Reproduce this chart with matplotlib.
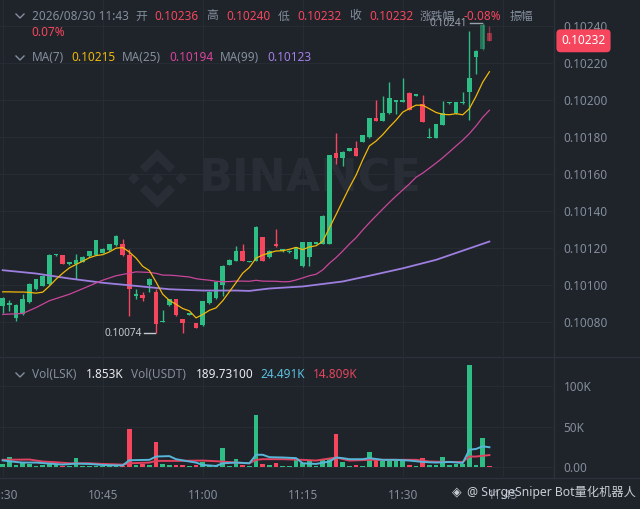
import numpy as np
import pandas as pd
import matplotlib.pyplot as plt
from matplotlib.lines import Line2D
from matplotlib.patches import Polygon
from matplotlib.transforms import blended_transform_factory

plt.rcParams['font.family'] = ['Noto Sans', 'Noto Sans CJK SC', 'DejaVu Sans']

# 1m candles, 10:30 .. 11:43
opens = [0.100887, 0.100890, 0.100819, 0.100841, 0.100909, 0.100981, 0.100997, 0.101003, 0.101160, 0.101161,
         0.101114, 0.101116, 0.101125, 0.101156, 0.101161, 0.101175, 0.101188, 0.101215, 0.101220, 0.101161,
         0.100940, 0.100945, 0.100999, 0.100963, 0.100800, 0.100891, 0.100923, 0.100814, 0.100840, 0.100792,
         0.100783, 0.100900, 0.100929, 0.101001, 0.101109, 0.101130, 0.101186, 0.101124, 0.101132, 0.101257,
         0.101149, 0.101223, 0.101183, 0.101176, 0.101140, 0.101100, 0.101149, 0.101224, 0.101221, 0.101221,
         0.101712, 0.101689, 0.101726, 0.101739, 0.101775, 0.101798, 0.101901, 0.101887, 0.101928, 0.101991,
         0.101991, 0.102040, 0.102024, 0.101978, 0.101796, 0.101797, 0.101865, 0.101982, 0.101928, 0.101982,
         0.102045, 0.102230, 0.102274, 0.102360]
highs = [0.100935, 0.100920, 0.100895, 0.100950, 0.101010, 0.101035, 0.101055, 0.101165, 0.101165, 0.101163,
         0.101125, 0.101170, 0.101155, 0.101185, 0.101245, 0.101200, 0.101223, 0.101268, 0.101246, 0.101197,
         0.100976, 0.100963, 0.101038, 0.100980, 0.100864, 0.100925, 0.100925, 0.100816, 0.100845, 0.100794,
         0.100916, 0.100965, 0.101017, 0.101107, 0.101138, 0.101212, 0.101222, 0.101132, 0.101318, 0.101262,
         0.101187, 0.101302, 0.101196, 0.101187, 0.101205, 0.101233, 0.101233, 0.101233, 0.101376, 0.101705,
         0.101820, 0.101723, 0.101741, 0.101779, 0.101813, 0.101903, 0.102000, 0.102022, 0.102095, 0.102002,
         0.102117, 0.102042, 0.102033, 0.102027, 0.101847, 0.101872, 0.101996, 0.101989, 0.101989, 0.102045,
         0.102374, 0.102268, 0.102414, 0.102400]
lows = [0.100851, 0.100860, 0.100805, 0.100840, 0.100900, 0.100975, 0.100995, 0.101000, 0.101158, 0.101115,
        0.101110, 0.101035, 0.101123, 0.101154, 0.101160, 0.101173, 0.101185, 0.101213, 0.101158, 0.100832,
        0.100927, 0.100913, 0.100963, 0.100739, 0.100798, 0.100888, 0.100835, 0.100742, 0.100838, 0.100768,
        0.100780, 0.100898, 0.100927, 0.100938, 0.101107, 0.101128, 0.101128, 0.101122, 0.101130, 0.101130,
        0.101147, 0.101207, 0.101181, 0.101174, 0.101138, 0.101098, 0.101100, 0.101222, 0.101219, 0.101219,
        0.101654, 0.101644, 0.101724, 0.101696, 0.101773, 0.101796, 0.101885, 0.101885, 0.101926, 0.101923,
        0.101989, 0.101944, 0.102022, 0.101881, 0.101794, 0.101795, 0.101863, 0.101980, 0.101926, 0.101980,
        0.101892, 0.102140, 0.102272, 0.102320]
closes = [0.100932, 0.100900, 0.100891, 0.100922, 0.101003, 0.101030, 0.101051, 0.101161, 0.101163, 0.101116,
          0.101123, 0.101134, 0.101152, 0.101183, 0.101242, 0.101197, 0.101220, 0.101264, 0.101160, 0.100981,
          0.100954, 0.100931, 0.101035, 0.100788, 0.100803, 0.100923, 0.100837, 0.100792, 0.100843, 0.100770,
          0.100914, 0.100963, 0.101015, 0.101105, 0.101136, 0.101186, 0.101130, 0.101130, 0.101316, 0.101131,
          0.101185, 0.101209, 0.101194, 0.101185, 0.101203, 0.101231, 0.101231, 0.101231, 0.101374, 0.101703,
          0.101689, 0.101721, 0.101739, 0.101698, 0.101811, 0.101901, 0.101887, 0.101932, 0.102009, 0.102000,
          0.102000, 0.101946, 0.102031, 0.101883, 0.101798, 0.101870, 0.101928, 0.101987, 0.101987, 0.101987,
          0.102117, 0.102266, 0.102405, 0.102320]
# volume in thousands of LSK
volumes = [3.4, 12.7, 2.0, 5.5, 3.8, 1.7, 2.0, 3.4, 2.0, 1.7, 1.7, 11.4, 1.3, 1.7, 1.7, 1.7, 1.7, 2.0, 1.7, 47.7,
           3.0, 4.2, 2.0, 30.8, 4.2, 2.5, 2.5, 2.5, 1.3, 2.5, 6.3, 2.0, 2.0, 24.0, 1.7, 9.7, 3.0, 1.3, 64.6, 3.4,
           2.1, 4.6, 1.3, 1.3, 8.9, 4.6, 8.0, 1.3, 8.9, 11.0, 40.5, 6.3, 1.3, 2.1, 1.3, 18.6, 8.9, 7.6, 7.6, 7.6,
           7.6, 2.1, 1.3, 11.0, 2.1, 3.0, 11.8, 2.1, 4.2, 4.2, 126.0, 2.1, 35.4, 1.853]

# MA values before enough visible history
ma7_head = [0.100963, 0.100963, 0.100962, 0.100962, 0.100960, 0.100956]
ma25_early_k = [1, 4, 6, 8, 11, 13, 16, 18, 21, 23, 24]
ma25_early = [0.100841, 0.100846, 0.100878, 0.100915, 0.100950, 0.100980, 0.101026, 0.101050, 0.101071,
              0.101068, 0.101063]
ma99_k = [1, 6, 11, 16, 21, 26, 31, 36, 38, 41, 46, 52, 56, 61, 66, 74]
ma99 = [0.101080, 0.101062, 0.101035, 0.101012, 0.100995, 0.100977, 0.100970, 0.100970, 0.100968,
        0.100981, 0.100992, 0.101019, 0.101050, 0.101090, 0.101136, 0.101235]
volma5_k = [1, 3, 4, 6, 8, 10, 12, 14, 16, 18, 19, 20, 23, 24, 26, 27, 29, 30, 31, 33, 34, 36, 38, 39, 40,
            41, 43, 45, 46, 48, 50, 51, 52, 53, 55, 56, 58, 60, 62, 64, 66, 68, 70, 71, 72, 73, 74]
volma5 = [8.2, 6.2, 5.5, 5.5, 4.2, 3.0, 4.2, 3.8, 2.5, 2.0, 2.0, 8.4, 8.9, 13.0, 13.5, 9.7, 6.8, 5.5, 2.5,
          1.3, 4.6, 5.5, 4.6, 15.2, 15.2, 12.2, 11.8, 11.0, 4.6, 3.8, 6.8, 11.8, 11.0, 9.7, 9.7, 11.0, 8.9,
          8.9, 8.0, 6.3, 5.5, 6.3, 5.0, 21.5, 22.4, 25.7, 24.5]
volma10_k = [1, 5, 7, 9, 11, 14, 16, 19, 20, 23, 24, 27, 31, 33, 36, 38, 39, 40, 43, 46, 48, 51, 53, 56, 59,
             63, 65, 68, 70, 71, 72, 74]
volma10 = [8.9, 9.3, 6.8, 5.9, 4.6, 4.6, 3.8, 3.0, 4.6, 5.5, 7.6, 7.6, 8.0, 7.2, 5.5, 4.6, 8.9, 9.7, 9.7,
           8.9, 8.0, 11.8, 8.0, 8.9, 8.9, 8.9, 6.8, 6.3, 6.3, 13.0, 13.0, 14.8]

time_ticks = ['10:30', '10:45', '11:00', '11:15', '11:30', '11:45']
price_ticks = [0.10080, 0.10100, 0.10120, 0.10140, 0.10160, 0.10180, 0.10200, 0.10220, 0.10240]

BG = '#1f232a'
GRID = '#272b33'
SEP = '#2c313a'
GRAY = '#848e9c'
GREEN = '#2ebd85'
RED = '#f6465d'
W, H = 640, 509

n = len(closes)
x = np.arange(n)
o = np.array(opens)
c = np.array(closes)
up = c >= o
cols = np.where(up, GREEN, RED)

fig = plt.figure(figsize=(6.4, 5.09), dpi=100, facecolor=BG)
ax = fig.add_axes([0, 1 - 356 / H, 553 / W, 356 / H], facecolor=BG)
axv = fig.add_axes([0, 1 - 477 / H, 553 / W, 120 / H], facecolor=BG)

# watermark behind the candles
WM = '#292d35'
ax.text(199 / W, 1 - 179 / H, 'BINANCE', color=WM, fontsize=32, fontweight='bold',
        family='DejaVu Sans', ha='left', va='center', zorder=1, transform=fig.transFigure)
cx, cy, u = 157.5, 178.5, 29.5
shapes = [
    [(0, 1), (0.6, 0.4), (0.4, 0.2), (0, 0.6), (-0.4, 0.2), (-0.6, 0.4)],
    [(0, -1), (0.6, -0.4), (0.4, -0.2), (0, -0.6), (-0.4, -0.2), (-0.6, -0.4)],
    [(0, 0.2), (0.2, 0), (0, -0.2), (-0.2, 0)],
    [(-0.8, 0.2), (-0.6, 0), (-0.8, -0.2), (-1.0, 0)],
    [(0.8, 0.2), (1.0, 0), (0.8, -0.2), (0.6, 0)],
]
for pts in shapes:
    ax.add_patch(Polygon([((cx + px * u) / W, 1 - (cy - py * u) / H) for px, py in pts], closed=True,
                         fc=WM, ec='none', transform=fig.transFigure, zorder=1))

# candles
alphas = np.ones(n)
alphas[-2:] = 0.5
for i in range(n):
    ax.vlines(x[i], lows[i], highs[i], color=cols[i], lw=1, alpha=alphas[i], zorder=2)
    body = max(abs(c[i] - o[i]), 6e-6)
    ax.bar(x[i], body, bottom=min(o[i], c[i]), width=0.68, color=cols[i], alpha=alphas[i], zorder=3)

s = pd.Series(closes)
ma7 = s.rolling(7).mean().to_numpy()
ma7[:6] = ma7_head
ma25 = s.rolling(25).mean().to_numpy()
x25 = np.concatenate([np.array(ma25_early_k) - 1, x[24:]])
y25 = np.concatenate([ma25_early, ma25[24:]])
ax.plot(np.array(ma99_k) - 1, ma99, color='#9d7fe0', lw=1.3, zorder=4)
ax.plot(x25, y25, color='#c8479b', lw=0.9, zorder=4)
ax.plot(x, ma7, color='#f0b90b', lw=0.9, zorder=5)

# extreme labels
ih = int(np.argmax(highs))
il = int(np.argmin(lows))
ax.plot([ih - 1.9, ih - 0.1], [highs[ih]] * 2, color='#9aa1ab', lw=1, zorder=6)
ax.text(ih - 2.3, highs[ih], f'{highs[ih]:.5f}', color='#9aa1ab', fontsize=7.3, ha='right', va='center')
ax.plot([il - 1.8, il - 0.1], [lows[il]] * 2, color='#c5cad1', lw=1, zorder=6)
ax.text(il - 2.1, lows[il], f'{lows[il]:.5f}', color='#c5cad1', fontsize=7.3, ha='right', va='center')

xlim = (-0.405, 82.54)
ax.set_xlim(*xlim)
ax.set_ylim(0.1006162, 0.1025405)
ax.set_xticks(np.arange(0, 76, 15))
ax.set_yticks(price_ticks)
ax.set_yticklabels([f'{p:.5f}' for p in price_ticks])
ax.yaxis.tick_right()
ax.tick_params(axis='y', colors=GRAY, labelsize=8.5, length=0, pad=7.5)
ax.tick_params(axis='x', length=0, labelbottom=False)
ax.grid(True, color=GRID, lw=0.8)
ax.set_axisbelow(True)

# current price tag
tr = blended_transform_factory(fig.transFigure, ax.transData)
ax.text(583.5 / W, closes[-1], f'{closes[-1]:.5f}', transform=tr, color='white', fontsize=8.5,
        ha='center', va='center', zorder=10, clip_on=False,
        bbox=dict(boxstyle='round,pad=0.42,rounding_size=0.35', fc=RED, ec='none'))

# volume pane
axv.bar(x, volumes, width=0.68, color=cols, zorder=3)
axv.plot(np.array(volma10_k) - 1, volma10, color='#e2415f', lw=1.4, zorder=4)
axv.plot(np.array(volma5_k) - 1, volma5, color='#56b7d8', lw=1.4, zorder=5)
axv.set_xlim(*xlim)
axv.set_ylim(-12.4, 136.5)
axv.set_yticks([0, 50, 100])
axv.set_yticklabels(['0.00', '50K', '100K'])
axv.yaxis.tick_right()
axv.tick_params(axis='y', colors=GRAY, labelsize=8.5, length=0, pad=7.5)
axv.set_xticks(np.arange(0, 76, 15))
axv.set_xticklabels(time_ticks)
axv.tick_params(axis='x', colors=GRAY, labelsize=8.5, length=0, pad=8.5)
axv.grid(True, color=GRID, lw=0.8)
axv.set_axisbelow(True)

for a in (ax, axv):
    for sp in a.spines.values():
        sp.set_visible(False)

# pane separators
fig.add_artist(Line2D([0, 1], [1 - 356.5 / H] * 2, color=SEP, lw=1, transform=fig.transFigure))
fig.add_artist(Line2D([0, 1], [1 - 477.5 / H] * 2, color=SEP, lw=1, transform=fig.transFigure))
fig.add_artist(Line2D([553.5 / W] * 2, [1 - 477.5 / H, 1], color=SEP, lw=1, transform=fig.transFigure))


def ftext(xp, yp, s, color, size=8.5, **kw):
    fig.text(xp / W, 1 - yp / H, s, color=color, fontsize=size, ha='left', va='center', **kw)


def chevron(yp):
    fig.add_artist(Line2D([16 / W, 20 / W, 24 / W], [1 - (yp - 2) / H, 1 - (yp + 2) / H, 1 - (yp - 2) / H],
                          color=GRAY, lw=1, transform=fig.transFigure))


# header rows
chevron(16)
row1 = [('2026/08/30 11:43', 32, GRAY), ('开', 135, GRAY), (f'{opens[-1]:.5f}', 154, RED),
        ('高', 206, GRAY), (f'{highs[-1]:.5f}', 226, RED), ('低', 278, GRAY), (f'{lows[-1]:.5f}', 297, RED),
        ('收', 349, GRAY), (f'{closes[-1]:.5f}', 369, RED), ('涨跌幅', 420, GRAY), ('-0.08%', 463, RED),
        ('振幅', 510, GRAY)]
for txt, xp, col in row1:
    ftext(xp, 16, txt, col)
ftext(31, 33, '0.07%', RED)

chevron(58)
row2 = [('MA(7)', 32, GRAY), ('0.10215', 71, '#f0b90b'), ('MA(25)', 122, GRAY), ('0.10194', 169, '#d9449c'),
        ('MA(99)', 220, GRAY), ('0.10123', 267, '#a47ee6')]
for txt, xp, col in row2:
    ftext(xp, 58, txt, col)

chevron(375)
row3 = [('Vol(LSK)', 32, GRAY), ('1.853K', 86, '#eaecef'), ('Vol(USDT)', 131, GRAY),
        ('189.73100', 196, '#eaecef'), ('24.491K', 260, '#5cc0e0'), ('14.809K', 313, '#e5455e')]
for txt, xp, col in row3:
    ftext(xp, 375, txt, col)

# bottom watermark
fig.text(452 / W, 1 - 492 / H, '◈', color='#c9cdd3', fontsize=9, family='DejaVu Sans', ha='left', va='center')
ftext(467, 492, '@ SurgeSniper Bot量化机器人', '#c9cdd3', size=8.8)

fig.savefig('out.png', dpi=100, facecolor=BG)
